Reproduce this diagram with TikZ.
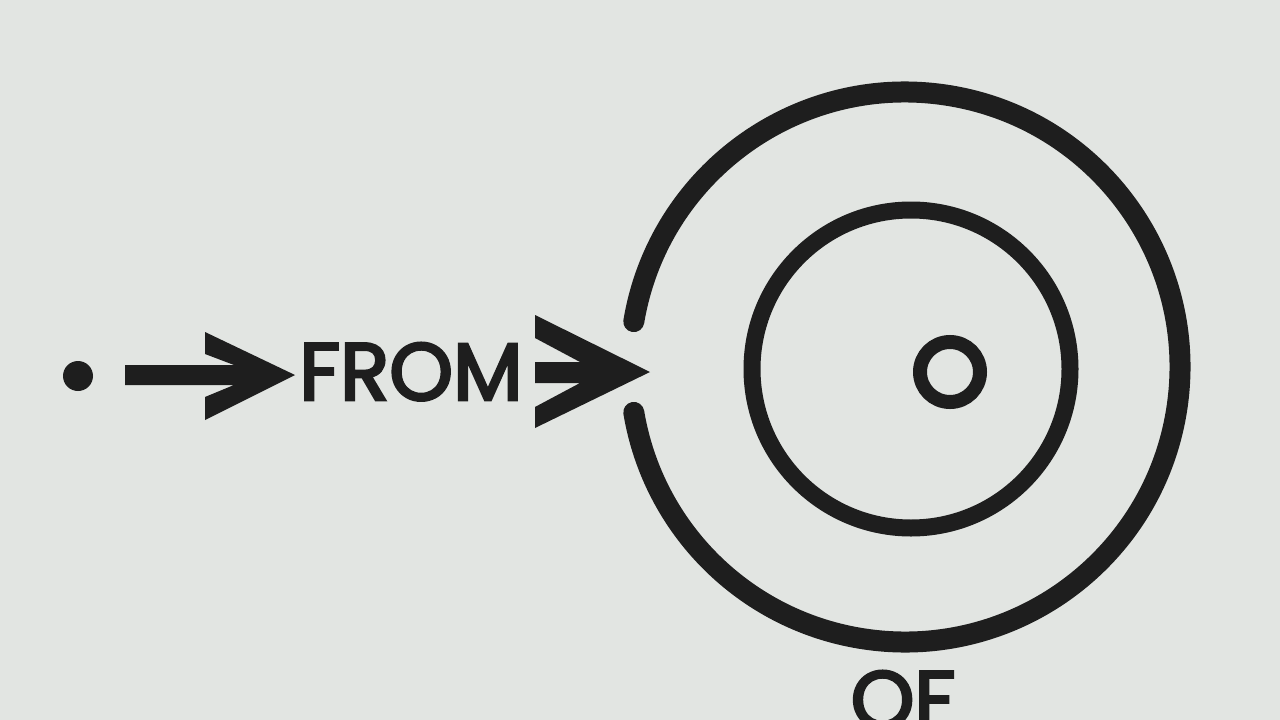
\documentclass[tikz,border=0pt]{standalone}
\usepackage{fontspec}
\setmainfont{Poppins}
\newfontfamily\wordfont{Poppins}[FakeBold=3.5]
\definecolor{bg}{RGB}{226,229,226}
\definecolor{ink}{RGB}{30,30,30}
\begin{document}
\begin{tikzpicture}[x=1pt,y=-1pt,
  word/.style={font=\wordfont\fontsize{81}{81}\selectfont, text=ink, inner sep=0pt, anchor=base},
  ring/.style={circle, draw=ink, inner sep=0pt, fill=none}]
\fill[bg] (0,0) rectangle (1280,720);
\useasboundingbox (0,0) rectangle (1280,720);
% dot
\node[circle, fill=ink, minimum size=30pt, inner sep=0pt] (dot) at (78,376) {};
% first arrow
\fill[ink] (125,365) -- (234,365) -- (205,354) -- (205,332) -- (295,375) -- (205,420) -- (205,397) -- (234,385) -- (125,385) -- cycle;
% FROM
\node[word] (from) at (411,400) {FROM};
% second chevron
\fill[ink] (535,315) -- (650,372) -- (535,428) -- (535,407) -- (580,383) -- (535,383) -- (535,362) -- (580,362) -- (535,338) -- cycle;
% outer broken circle
\coordinate (oc) at (905,367);
\draw[ink, line width=21pt, line cap=round] (oc) ++(189.5:275) arc[start angle=189.5, end angle=530.5, radius=275];
% inner circle
\node[ring, line width=17pt, minimum size=318pt] (inner) at (911,369) {};
% small ring
\node[ring, line width=14pt, minimum size=60pt] (core) at (950,372) {};
% OF
\node[word] (of) at (903,728) {OF};
\end{tikzpicture}
\end{document}
